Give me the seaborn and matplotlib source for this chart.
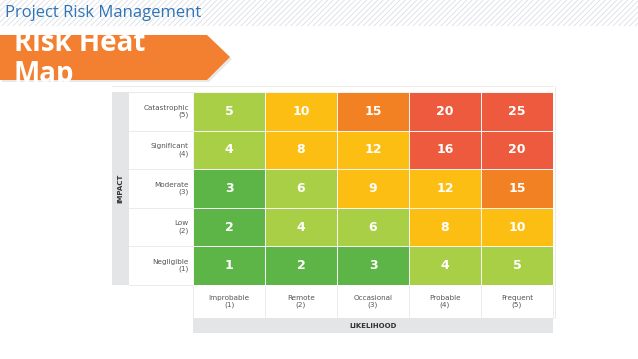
import numpy as np
import pandas as pd
import matplotlib
matplotlib.use("Agg")
import matplotlib.pyplot as plt
import seaborn as sns
from matplotlib.colors import ListedColormap, BoundaryNorm
from matplotlib.patches import Rectangle, Polygon

# Data
impact_labels = ["Catastrophic\n(5)", "Significant\n(4)", "Moderate\n(3)", "Low\n(2)", "Negligible\n(1)"]
likelihood_labels = ["Improbable\n(1)", "Remote\n(2)", "Occasional\n(3)", "Probable\n(4)", "Frequent\n(5)"]
catastrophic = [5, 10, 15, 20, 25]
significant = [4, 8, 12, 16, 20]
moderate = [3, 6, 9, 12, 15]
low = [2, 4, 6, 8, 10]
negligible = [1, 2, 3, 4, 5]

risk_colors = ["#5db547", "#a9cf46", "#fdbe13", "#f28124", "#ee5a3d"]
risk_bounds = [0, 3.5, 6.5, 13, 15.5, 26]

df = pd.DataFrame([catastrophic, significant, moderate, low, negligible],
                  index=impact_labels, columns=likelihood_labels)

W, H = 638, 359
fig = plt.figure(figsize=(W / 100, H / 100), dpi=100)
fig.patch.set_facecolor("white")

def fx(x):
    return x / W

def fy(y):
    return 1 - y / H

# Header: hatched band + title
plt.rcParams["hatch.linewidth"] = 0.6
band = Rectangle((0, fy(26)), 1, 26 / H, transform=fig.transFigure,
                 facecolor="white", edgecolor="#dadfe6", hatch="//////", linewidth=0)
fig.patches.append(band)
fig.text(fx(5), fy(13), "Project Risk Management", fontsize=12, color="#2f74b5",
         family=["Open Sans", "DejaVu Sans"], va="center", ha="left")

# Orange banner arrow
shadow = Polygon([(fx(2), fy(37)), (fx(209), fy(37)), (fx(232), fy(59)), (fx(209), fy(82)), (fx(2), fy(82))],
                 closed=True, transform=fig.transFigure, facecolor="#d9d9d9", edgecolor="none", alpha=0.6)
fig.patches.append(shadow)
banner = Polygon([(0, fy(35)), (fx(207), fy(35)), (fx(230), fy(57)), (fx(207), fy(80)), (0, fy(80))],
                 closed=True, transform=fig.transFigure, facecolor="#f37f30", edgecolor="none")
fig.patches.append(banner)
for line, base in [("Risk Heat", 51), ("Map", 82)]:
    t = fig.text(fx(14), fy(base), line, fontsize=20, fontweight="bold", color="white",
                 family=["Open Sans", "DejaVu Sans"], va="baseline", ha="left")
    t.set_clip_path(banner)

# Heat map
ax = fig.add_axes([fx(193), fy(285), fx(360), 193 / H])
cmap = ListedColormap(risk_colors)
norm = BoundaryNorm(risk_bounds, cmap.N)
sns.heatmap(df, ax=ax, cmap=cmap, norm=norm, annot=True, fmt="d", cbar=False,
            linewidths=0.6, linecolor="#f4f4f4",
            annot_kws={"fontsize": 9, "fontweight": "bold", "color": "white"})

ax.set_yticklabels(impact_labels, rotation=0, fontsize=5.2, color="#555555")
ax.set_xticklabels(likelihood_labels, rotation=0, fontsize=5.2, color="#555555")
ax.tick_params(axis="y", length=0, pad=3)
ax.tick_params(axis="x", length=0, pad=7)
ax.set_xlabel("")
ax.set_ylabel("")

# Label panels around the grid
lab_w = 64 / 72
strip_w = 17 / 72
bot_h = 33 / 38.6
gstrip_h = 15 / 38.6
ax.add_patch(Rectangle((-lab_w - strip_w, 0), strip_w, 5, facecolor="#e4e5e7",
                       edgecolor="none", clip_on=False, zorder=0))
ax.add_patch(Rectangle((0, 5 + bot_h), 5, gstrip_h, facecolor="#e4e5e7",
                       edgecolor="none", clip_on=False, zorder=0))
ax.text(-lab_w - strip_w / 2, 2.5, "IMPACT", rotation=90, fontsize=5, fontweight="bold",
        color="#333333", ha="center", va="center")
ax.text(2.5, 5 + bot_h + gstrip_h / 2, "LIKELIHOOD", fontsize=5, fontweight="bold",
        color="#333333", ha="center", va="center")

line_kw = dict(color="#e8e8e8", linewidth=0.6, clip_on=False)
for i in range(0, 6):
    ax.plot([i, i], [5, 5 + bot_h], **line_kw)
for j in range(0, 6):
    ax.plot([-lab_w, 0], [j, j], **line_kw)
ax.plot([-lab_w - strip_w, 5], [-0.15, -0.15], **line_kw)
ax.plot([5.03, 5.03], [-0.15, 5 + bot_h], **line_kw)

fig.savefig("out.png", dpi=100)
